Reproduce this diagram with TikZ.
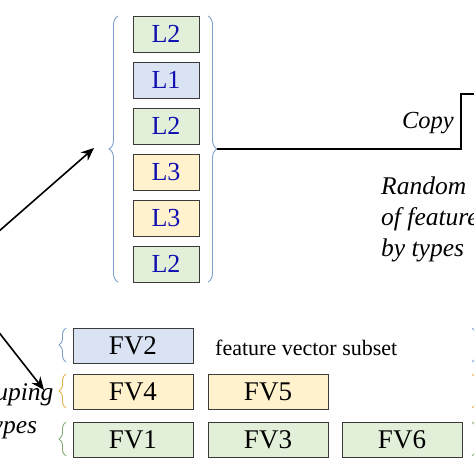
\documentclass[tikz,border=0pt]{standalone}
\usepackage{fontspec}
\setmainfont{Liberation Serif}
\usetikzlibrary{decorations.pathreplacing,arrows.meta}
\definecolor{gfill}{HTML}{E2F0D9}
\definecolor{bfill}{HTML}{DAE3F3}
\definecolor{ofill}{HTML}{FFF2CC}
\definecolor{bbrace}{HTML}{7F9FCB}
\definecolor{obrace}{HTML}{E2B14C}
\definecolor{gbrace}{HTML}{84AA73}
\definecolor{ltext}{HTML}{1010B0}
\definecolor{bord}{HTML}{3A3A3A}
\tikzset{
  lbox/.style={draw=bord,line width=1pt,minimum width=66pt,minimum height=36pt,inner sep=0pt,text=ltext,font=\fontsize{26}{28}\selectfont},
  fvbox/.style={draw=bord,line width=1pt,minimum width=120pt,minimum height=35pt,inner sep=0pt,font=\fontsize{27}{29}\selectfont},
  bigbrace/.style={decorate,decoration={brace,amplitude=9pt},draw=bbrace,line width=0.9pt},
  smallbrace/.style={decorate,decoration={brace,amplitude=7pt},line width=0.9pt},
  itext/.style={font=\fontsize{25.5}{27}\selectfont\itshape,inner sep=0pt},
  conn/.style={line width=1.6pt,-{Stealth[length=13pt,width=11pt]}},
  plain/.style={line width=1.4pt}
}
\begin{document}
\begin{tikzpicture}[x=1pt,y=-1pt]
\useasboundingbox (0,0) rectangle (474,474);
\clip (0,0) rectangle (474,474);
% L column
\node[lbox,fill=gfill] (l1) at (166,34) {L2};
\node[lbox,fill=bfill] (l2) at (166,80) {L1};
\node[lbox,fill=gfill] (l3) at (166,126) {L2};
\node[lbox,fill=ofill] (l4) at (166,172) {L3};
\node[lbox,fill=ofill] (l5) at (166,218) {L3};
\node[lbox,fill=gfill] (l6) at (166,264) {L2};
\draw[bigbrace] (118,282) -- (118,16);
\draw[bigbrace] (208,16) -- (208,282);
\coordinate (btipL) at (109,149);
\coordinate (btipR) at (217,149);
\coordinate (bend1) at (461,149);
\coordinate (bend2) at (461,94);
\coordinate (rout) at (480,94);
\draw[plain] (btipR) -- (bend1) -- (bend2) -- (rout);
\node[itext,font=\fontsize{24.5}{26}\selectfont\itshape,anchor=base east] (copy) at (454,128) {Copy};
\node[itext,anchor=base west] (r1) at (381,194) {Random};
\node[itext,anchor=base west] (r2) at (381,225) {of feature};
\node[itext,anchor=base west] (r3) at (381,256) {by types};
% arrows
\coordinate (s1) at (-10,239);
\coordinate (t1) at (94,148);
\draw[conn] (s1) -- (t1);
\coordinate (s2) at (-10,321);
\coordinate (t2) at (44,390);
\draw[conn] (s2) -- (t2);
\node[itext,anchor=base west] (g1) at (-45,400) {Grouping};
\node[itext,anchor=base west] (g2) at (-46,433) {by types};
% FV rows
\node[fvbox,fill=bfill] (fv2) at (133,345.5) {FV2};
\node[fvbox,fill=ofill] (fv4) at (133,391.5) {FV4};
\node[fvbox,fill=ofill] (fv5) at (268,391.5) {FV5};
\node[fvbox,fill=gfill] (fv1) at (133,439.5) {FV1};
\node[fvbox,fill=gfill] (fv3) at (268,439.5) {FV3};
\node[fvbox,fill=gfill] (fv6) at (402,439.5) {FV6};
\node[anchor=base west,inner sep=0pt,font=\fontsize{22}{24}\selectfont] (sub) at (215,355) {feature vector subset};
\draw[smallbrace,draw=bbrace] (66,362) -- (66,328);
\draw[smallbrace,draw=obrace] (66,408) -- (66,374);
\draw[smallbrace,draw=gbrace] (66,456) -- (66,422);
\draw[smallbrace,draw=bbrace] (472,328) -- (472,362);
\draw[smallbrace,draw=obrace] (472,374) -- (472,408);
\draw[smallbrace,draw=gbrace] (472,422) -- (472,456);
\end{tikzpicture}
\end{document}
